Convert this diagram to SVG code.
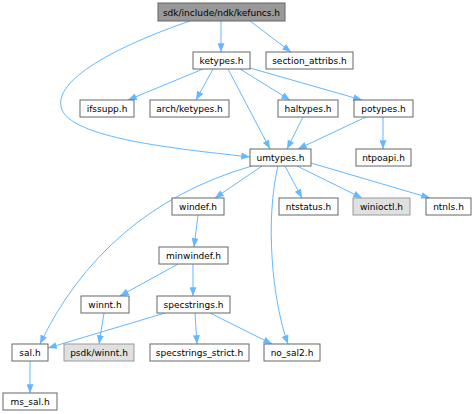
<svg xmlns="http://www.w3.org/2000/svg" width="474" height="414" viewBox="0 0 474 414">
<style>
.n rect{fill:#ffffff;stroke:#666666;stroke-width:1}
.n text{font-family:"DejaVu Sans","Liberation Sans",sans-serif;font-size:9px;fill:#000;text-anchor:middle}
.n.root rect{fill:#999999;stroke:#666666}
.n.ext rect{fill:#e0e0e0;stroke:#999999}
.e path{fill:none;stroke:#63b8ff;stroke-width:1;marker-end:url(#ah)}
</style>
<defs>
<marker id="ah" viewBox="0 0 10 8" refX="10" refY="4" markerWidth="9" markerHeight="7" orient="auto" markerUnits="userSpaceOnUse">
<path d="M0,0 L10,4 L0,8 z" fill="#63b8ff"/>
</marker>
</defs>
<rect width="474" height="414" fill="#ffffff"/>
<g id="edges" class="e">
<path d="M221,21 L221,52"/>
<path d="M250,21 L291,52"/>
<path d="M190,21 C120,45 50,80 62,110 C75,140 190,150 250,157"/>
<path d="M203,69 L128,100"/>
<path d="M213,69 L196,100"/>
<path d="M240,69 L290,100"/>
<path d="M250,68 L362,100"/>
<path d="M228,69 L270,149"/>
<path d="M303,117 L287,149"/>
<path d="M366,117 L298,149"/>
<path d="M383,117 L383,149"/>
<path d="M262,166 L215,198"/>
<path d="M252,166 C150,195 80,260 40,344"/>
<path d="M278,166 C265,220 272,300 288,344"/>
<path d="M285,166 L302,198"/>
<path d="M297,166 L362,198"/>
<path d="M311,163 L430,198"/>
<path d="M198,215 L194,247"/>
<path d="M178,264 L120,296"/>
<path d="M193,264 L193,296"/>
<path d="M104,313 L99,344"/>
<path d="M165,313 L48,348"/>
<path d="M195,313 L197,344"/>
<path d="M210,313 L272,344"/>
<path d="M30,361 L30,393"/>
</g>
<g id="kefuncs" class="n root"><rect x="158" y="3" width="127" height="18"/><text x="221.5" y="15.5">sdk/include/ndk/kefuncs.h</text></g>
<g id="ketypes" class="n"><rect x="193" y="52" width="57" height="17"/><text x="221.5" y="64">ketypes.h</text></g>
<g id="section_attribs" class="n"><rect x="266" y="52" width="87" height="17"/><text x="309.5" y="64">section_attribs.h</text></g>
<g id="ifssupp" class="n"><rect x="80" y="100" width="54" height="17"/><text x="107" y="112">ifssupp.h</text></g>
<g id="arch_ketypes" class="n"><rect x="150" y="100" width="79" height="17"/><text x="189.5" y="112">arch/ketypes.h</text></g>
<g id="haltypes" class="n"><rect x="278" y="100" width="60" height="17"/><text x="308" y="112">haltypes.h</text></g>
<g id="potypes" class="n"><rect x="354" y="100" width="59" height="17"/><text x="383.5" y="112">potypes.h</text></g>
<g id="umtypes" class="n"><rect x="250" y="149" width="61" height="17"/><text x="280.5" y="161">umtypes.h</text></g>
<g id="ntpoapi" class="n"><rect x="356" y="149" width="55" height="17"/><text x="383.5" y="161">ntpoapi.h</text></g>
<g id="windef" class="n"><rect x="172" y="198" width="52" height="17"/><text x="198" y="210">windef.h</text></g>
<g id="ntstatus" class="n"><rect x="279" y="198" width="59" height="17"/><text x="308.5" y="210">ntstatus.h</text></g>
<g id="winioctl" class="n ext"><rect x="353" y="198" width="57" height="17"/><text x="381.5" y="210">winioctl.h</text></g>
<g id="ntnls" class="n"><rect x="426" y="198" width="45" height="17"/><text x="448.5" y="210">ntnls.h</text></g>
<g id="minwindef" class="n"><rect x="159" y="247" width="69" height="17"/><text x="193.5" y="259">minwindef.h</text></g>
<g id="winnt" class="n"><rect x="81" y="296" width="48" height="17"/><text x="105" y="308">winnt.h</text></g>
<g id="specstrings" class="n"><rect x="157" y="296" width="73" height="17"/><text x="193.5" y="308">specstrings.h</text></g>
<g id="sal" class="n"><rect x="12" y="344" width="36" height="17"/><text x="30" y="356">sal.h</text></g>
<g id="psdk_winnt" class="n ext"><rect x="64" y="344" width="70" height="17"/><text x="99" y="356">psdk/winnt.h</text></g>
<g id="specstrings_strict" class="n"><rect x="150" y="344" width="99" height="17"/><text x="199.5" y="356">specstrings_strict.h</text></g>
<g id="no_sal2" class="n"><rect x="264" y="344" width="56" height="17"/><text x="292" y="356">no_sal2.h</text></g>
<g id="ms_sal" class="n"><rect x="3" y="393" width="54" height="17"/><text x="30" y="405">ms_sal.h</text></g>
</svg>
